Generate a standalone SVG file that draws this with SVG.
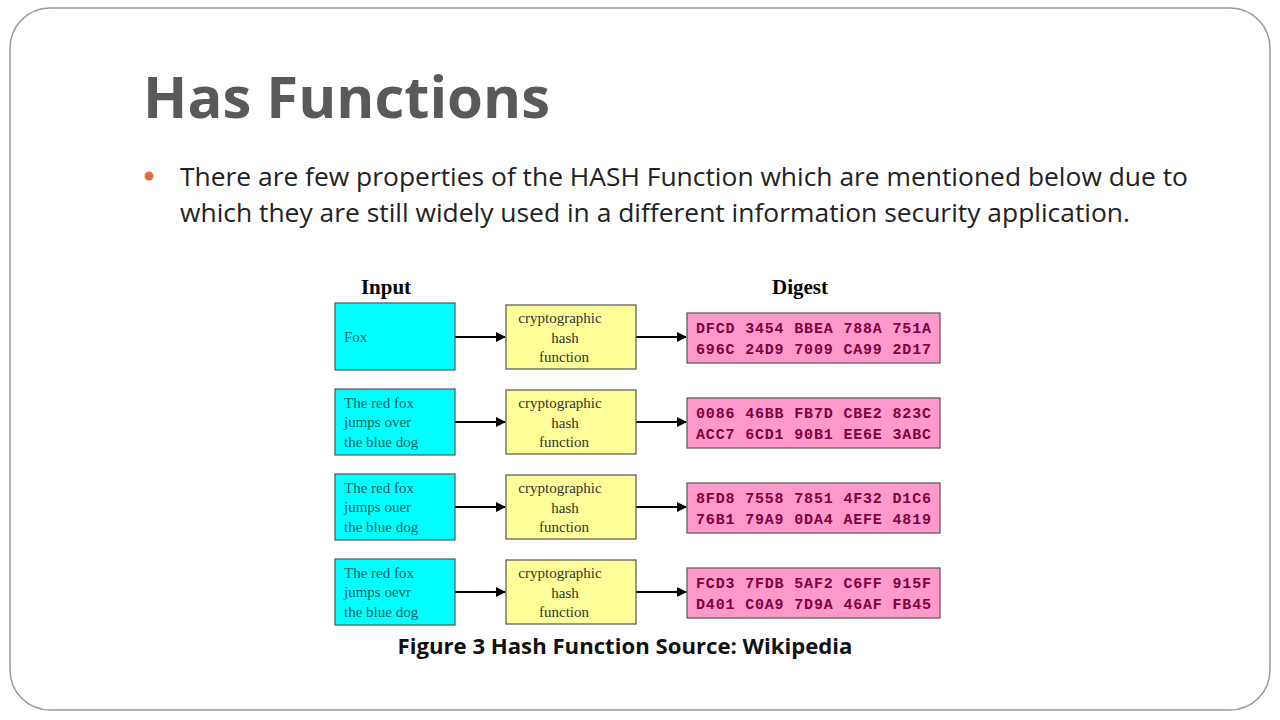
<svg xmlns="http://www.w3.org/2000/svg" width="1280" height="720" viewBox="0 0 1280 720">
<defs>
<style>
.in{fill:#00ffff;stroke:#555;stroke-width:1.2}
.hf{fill:#ffff99;stroke:#555;stroke-width:1.2}
.dg{fill:#ff99cc;stroke:#555;stroke-width:1.2}
.ser{font-family:"Liberation Serif",serif;font-size:15px;fill:#006060}
.serc{font-family:"Liberation Serif",serif;font-size:15px;fill:#333;text-anchor:middle}
.mono{font-family:"Liberation Mono",monospace;font-size:15px;fill:#800040;font-weight:bold}
.ln{stroke:#000;stroke-width:2;fill:none}
</style>
<marker id="ar" markerWidth="10" markerHeight="10" refX="9" refY="5" orient="auto" markerUnits="userSpaceOnUse"><path d="M0,0 L10,5 L0,10 z" fill="#000"/></marker>
</defs>
<rect width="1280" height="720" fill="#fff"/>
<rect x="10" y="8" width="1260" height="702" rx="40" fill="#fff" stroke="#999" stroke-width="1.5"/>
<text x="143" y="118" font-family="Open Sans,sans-serif" font-weight="bold" font-size="58" fill="#595959" textLength="407" lengthAdjust="spacingAndGlyphs">Has Functions</text>
<circle cx="149" cy="176" r="4.5" fill="#e0703a"/>
<text font-family="Open Sans,sans-serif" font-size="26" fill="#222"><tspan x="180" y="186" textLength="1008" lengthAdjust="spacingAndGlyphs">There are few properties of the HASH Function which are mentioned below due to</tspan><tspan x="180" y="222" textLength="950" lengthAdjust="spacingAndGlyphs">which they are still widely used in a different information security application.</tspan></text>
<text x="386" y="294" font-family="Liberation Serif,serif" font-weight="bold" font-size="21" text-anchor="middle">Input</text>
<text x="800" y="294" font-family="Liberation Serif,serif" font-weight="bold" font-size="21" text-anchor="middle">Digest</text>
<g id="connectors">
<path class="ln" d="M455,337 H505" marker-end="url(#ar)"/><path class="ln" d="M636,337 H686" marker-end="url(#ar)"/>
<path class="ln" d="M455,422 H505" marker-end="url(#ar)"/><path class="ln" d="M636,422 H686" marker-end="url(#ar)"/>
<path class="ln" d="M455,507 H505" marker-end="url(#ar)"/><path class="ln" d="M636,507 H686" marker-end="url(#ar)"/>
<path class="ln" d="M455,592 H505" marker-end="url(#ar)"/><path class="ln" d="M636,592 H686" marker-end="url(#ar)"/>
</g>
<g id="in1"><rect class="in" x="335" y="303" width="120" height="67"/><text class="ser" x="344" y="342">Fox</text></g>
<g id="in2"><rect class="in" x="335" y="389" width="120" height="66"/><text class="ser"><tspan x="344" y="408">The red fox</tspan><tspan x="344" y="427">jumps over</tspan><tspan x="344" y="447">the blue dog</tspan></text></g>
<g id="in3"><rect class="in" x="335" y="474" width="120" height="66"/><text class="ser"><tspan x="344" y="493">The red fox</tspan><tspan x="344" y="512">jumps ouer</tspan><tspan x="344" y="532">the blue dog</tspan></text></g>
<g id="in4"><rect class="in" x="335" y="559" width="120" height="66"/><text class="ser"><tspan x="344" y="578">The red fox</tspan><tspan x="344" y="597">jumps oevr</tspan><tspan x="344" y="617">the blue dog</tspan></text></g>
<g id="h1"><rect class="hf" x="506" y="305" width="130" height="64"/><text class="serc"><tspan x="560" y="323">cryptographic</tspan><tspan x="565" y="343">hash</tspan><tspan x="564" y="362">function</tspan></text></g>
<g id="h2"><rect class="hf" x="506" y="390" width="130" height="64"/><text class="serc"><tspan x="560" y="408">cryptographic</tspan><tspan x="565" y="428">hash</tspan><tspan x="564" y="447">function</tspan></text></g>
<g id="h3"><rect class="hf" x="506" y="475" width="130" height="64"/><text class="serc"><tspan x="560" y="493">cryptographic</tspan><tspan x="565" y="513">hash</tspan><tspan x="564" y="532">function</tspan></text></g>
<g id="h4"><rect class="hf" x="506" y="560" width="130" height="64"/><text class="serc"><tspan x="560" y="578">cryptographic</tspan><tspan x="565" y="598">hash</tspan><tspan x="564" y="617">function</tspan></text></g>
<g id="d1"><rect class="dg" x="687" y="313" width="253" height="50"/><text class="mono"><tspan x="696" y="333" textLength="235">DFCD 3454 BBEA 788A 751A</tspan><tspan x="696" y="354" textLength="235">696C 24D9 7009 CA99 2D17</tspan></text></g>
<g id="d2"><rect class="dg" x="687" y="398" width="253" height="50"/><text class="mono"><tspan x="696" y="418" textLength="235">0086 46BB FB7D CBE2 823C</tspan><tspan x="696" y="439" textLength="235">ACC7 6CD1 90B1 EE6E 3ABC</tspan></text></g>
<g id="d3"><rect class="dg" x="687" y="483" width="253" height="50"/><text class="mono"><tspan x="696" y="503" textLength="235">8FD8 7558 7851 4F32 D1C6</tspan><tspan x="696" y="524" textLength="235">76B1 79A9 0DA4 AEFE 4819</tspan></text></g>
<g id="d4"><rect class="dg" x="687" y="568" width="253" height="50"/><text class="mono"><tspan x="696" y="588" textLength="235">FCD3 7FDB 5AF2 C6FF 915F</tspan><tspan x="696" y="609" textLength="235">D401 C0A9 7D9A 46AF FB45</tspan></text></g>
<text x="625" y="654" font-family="Open Sans,sans-serif" font-weight="bold" font-size="21" text-anchor="middle" fill="#111" textLength="455" lengthAdjust="spacingAndGlyphs">Figure 3 Hash Function Source: Wikipedia</text>
</svg>
